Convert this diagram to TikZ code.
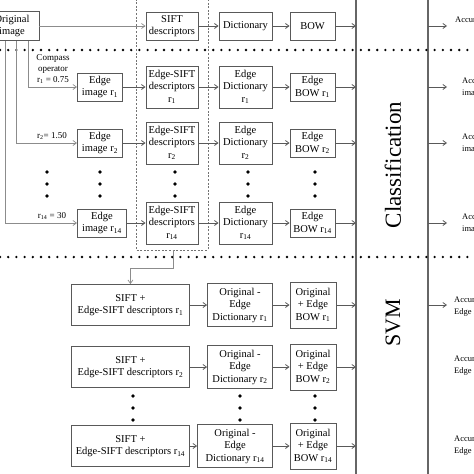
\documentclass[tikz,border=0pt]{standalone}
\usepackage{fontspec}
\setmainfont{Liberation Serif}
\usetikzlibrary{positioning, arrows.meta}
\newcommand{\rsub}[1]{r\textsubscript{#1}}

\begin{document}
\begin{tikzpicture}[
		x=1pt, y=-1pt,
		>={Straight Barb[length=3.5pt, width=5pt]},
		box/.style={draw=black!65, rectangle, line width=0.9pt, align=center, inner sep=1pt, font=\fontsize{10.5}{12.5}\selectfont},
		smallbox/.style={box, minimum width=45pt, minimum height=28pt},
		midbox/.style={box, minimum width=52pt, minimum height=42pt},
		combbox/.style={box, anchor=west, minimum width=118pt, minimum height=41pt},
		odictbox/.style={box, anchor=east, minimum width=65pt, minimum height=43pt},
		obowbox/.style={box, minimum width=46pt, minimum height=46pt},
		lbl/.style={align=center, inner sep=0pt, font=\fontsize{9}{11}\selectfont},
		res/.style={align=left, anchor=west, inner sep=0pt, font=\fontsize{8.5}{12}\selectfont},
		big/.style={rotate=90, inner sep=0pt},
		flow/.style={->, draw=black!65, line width=0.8pt},
		feed/.style={->, draw=black!45, line width=0.7pt},
		sep/.style={line width=2.6pt, line cap=round, dash pattern=on 0pt off 8.2pt},
		dbox/.style={draw=black!55, line width=0.7pt, dash pattern=on 2pt off 1.6pt},
		vline/.style={draw=black!60, line width=1.2pt},
	]
	\useasboundingbox (0,0) rectangle (474,474);

	% classification / svm band
	\coordinate (clsL) at (356,0);
	\coordinate (clsR) at (428,0);
	\draw[vline] (356,-3) -- (356,477);
	\draw[vline] (428,-3) -- (428,477);
	\node[big, font=\fontsize{23}{26}\selectfont] (cls) at (393,165) {Classification};
	\node[big, font=\fontsize{22}{26}\selectfont] (svm) at (393,323) {SVM};

	% separators
	\draw[sep] (0,50) -- (474,50);
	\draw[sep] (0,257) -- (474,257);
	\draw[dbox] (136,-5) rectangle (208,250);
	\coordinate (dout) at (173,250);

	% original image row
	\node[box, minimum width=54pt, minimum height=29pt] (orig) at (12,26) {Original\\image};
	\node[box, minimum width=52pt, minimum height=28pt] (sift) at (172,26) {SIFT\\descriptors};
	\node[box, minimum width=53pt, minimum height=28pt] (dict) at (245.5,26) {Dictionary};
	\node[smallbox] (bow) at (312.5,26) {BOW};

	% edge rows
	\node[smallbox, anchor=west] (edge1) at (77,87) {Edge\\image \rsub{1}};
	\node[midbox] (esift1) at (172,87) {Edge-SIFT\\descriptors\\\rsub{1}};
	\node[midbox, minimum width=53pt] (edict1) at (245.5,87) {Edge\\Dictionary\\\rsub{1}};
	\node[smallbox] (ebow1) at (312.5,87) {Edge\\BOW \rsub{1}};

	\node[smallbox, anchor=west] (edge2) at (77,143) {Edge\\image \rsub{2}};
	\node[midbox] (esift2) at (172,143) {Edge-SIFT\\descriptors\\\rsub{2}};
	\node[midbox, minimum width=53pt] (edict2) at (245.5,143) {Edge\\Dictionary\\\rsub{2}};
	\node[smallbox] (ebow2) at (312.5,143) {Edge\\BOW \rsub{2}};

	\node[smallbox, anchor=west, minimum width=49pt] (edge14) at (77,223) {Edge\\image \rsub{14}};
	\node[midbox] (esift14) at (172,223) {Edge-SIFT\\descriptors\\\rsub{14}};
	\node[midbox, minimum width=53pt] (edict14) at (245.5,223) {Edge\\Dictionary\\\rsub{14}};
	\node[smallbox] (ebow14) at (312.5,223) {Edge\\BOW \rsub{14}};

	\node[lbl] (cmp) at (53,69) {Compass\\operator\\\rsub{1} = 0.75};
	\node[lbl] (lr2) at (52,136) {\rsub{2}= 1.50};
	\node[lbl] (lr14) at (52,216) {\rsub{14} = 30};

	% combined rows
	\node[combbox] (comb1) at (71,305) {SIFT +\\Edge-SIFT descriptors \rsub{1}};
	\node[odictbox] (odict1) at (273,305) {Original -\\Edge\\Dictionary \rsub{1}};
	\node[obowbox] (obow1) at (313,305) {Original\\+ Edge\\BOW \rsub{1}};

	\node[combbox] (comb2) at (71,367) {SIFT +\\Edge-SIFT descriptors \rsub{2}};
	\node[odictbox] (odict2) at (273,367) {Original -\\Edge\\Dictionary \rsub{2}};
	\node[obowbox] (obow2) at (313,367) {Original\\+ Edge\\BOW \rsub{2}};

	\node[combbox] (comb14) at (71,446) {SIFT +\\Edge-SIFT descriptors \rsub{14}};
	\node[odictbox, minimum width=75pt] (odict14) at (273,446) {Original -\\Edge\\Dictionary \rsub{14}};
	\node[obowbox] (obow14) at (313,446) {Original\\+ Edge\\BOW \rsub{14}};

	% results (cut by the page edge)
	\node[res] (acc0) at (455,21) {Accuracy};
	\node[res] (acc1) at (462,87.5) {Accuracy\\image \rsub{1}};
	\node[res] (acc2) at (462,144) {Accuracy\\image \rsub{2}};
	\node[res] (acc14) at (462,223.5) {Accuracy\\image \rsub{14}};
	\node[res] (accs1) at (454,307) {Accuracy\\Edge \rsub{1}};
	\node[res] (accs2) at (454,366) {Accuracy\\Edge \rsub{2}};
	\node[res] (accs14) at (454,445.5) {Accuracy\\Edge \rsub{14}};

	% dots
	\foreach \x in {47,100,175,248,315}
		\foreach \y in {172,184,196}
			\fill (\x,\y) circle (1.8pt);
	\foreach \x in {133,240,315}
		\foreach \y in {396,408,420}
			\fill (\x,\y) circle (1.8pt);

	% connectors
	\draw[feed] (orig) -- (sift);
	\draw[feed] ([xshift=16pt]orig.south) |- (edge1.west);
	\draw[feed] ([xshift=4pt]orig.south) |- (edge2.west);
	\draw[feed] ([xshift=-7pt]orig.south) |- (edge14.west);
	\draw[flow] (sift) -- (dict);
	\draw[flow] (dict) -- (bow);
	\foreach \n in {1,2,14} {
		\draw[flow] (edge\n) -- (esift\n);
		\draw[flow] (esift\n) -- (edict\n);
		\draw[flow] (edict\n) -- (ebow\n);
		\draw[flow] (ebow\n) -- (ebow\n -| clsL);
		\draw[flow] (clsR |- ebow\n) -- ++(19,0);
		\draw[flow] (comb\n) -- (odict\n);
		\draw[flow] (odict\n) -- (obow\n);
		\draw[flow] (obow\n) -- (obow\n -| clsL);
	}
	\draw[flow] (bow) -- (bow -| clsL);
	\draw[flow] (clsR |- bow) -- ++(19,0);
	\draw[flow] (clsR |- obow1) -- ++(19,0);
	\draw[feed] (dout) -- ++(0,18) -| (comb1.north);
\end{tikzpicture}
\end{document}
